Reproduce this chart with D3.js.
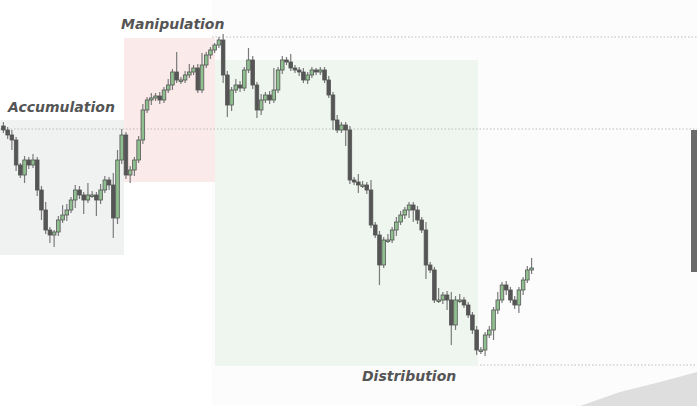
<!DOCTYPE html>
<html><head><meta charset="utf-8">
<script src="https://cdn.jsdelivr.net/npm/d3@7"></script>
<style>body{margin:0;background:#fff;}svg{display:block;font-family:"DejaVu Sans",sans-serif;}</style>
</head><body>
<script>
// closing prices per candle (open = previous close)
const closes = [276,271,266,241,231,246,241,246,216,196,176,171,174,186,191,196,206,216,211,206,211,211,206,216,226,221,188,246,271,
  231,236,246,266,296,306,308,310,306,316,321,334,326,326,331,334,338,316,341,351,356,361,366,331,
  301,316,321,318,336,346,321,296,306,311,306,316,336,346,344,338,336,334,326,331,336,334,336,326,311,286,276,281,276,226,224,221,221,216,181,171,141,166,166,176,184,191,196,201,196,186,176,141,136,106,106,111,106,81,106,106,101,91,76,56,
  56,71,76,96,106,121,116,106,101,116,126,136,138];
const firstOpen = 280;
const highWick = [4,3,5,3,2,4,3,6,3,4,8,3,2,4,10,6,3,5,4,3,12,4,3,6,4,3,12,10,6,
  3,4,3,4,6,3,5,3,4,3,6,3,20,3,4,8,3,4,12,3,3,2,3,6,
  4,3,6,4,3,12,4,3,6,3,4,22,3,4,3,8,3,3,4,3,3,2,3,3,4,3,5,3,3,4,3,8,4,3,10,3,4,3,6,3,5,4,3,3,3,4,3,8,3,3,12,3,4,8,4,6,3,3,3,4,
  3,3,4,3,8,3,4,3,4,3,3,4,10];
const lowWick = [3,4,10,6,3,8,4,3,6,10,4,8,12,4,3,6,3,8,4,14,3,3,16,4,3,5,20,6,4,
  4,8,6,3,4,3,5,3,4,3,3,5,3,4,3,3,3,3,3,3,4,3,3,8,
  12,6,3,4,3,3,4,8,5,3,4,3,3,4,3,3,3,4,3,4,3,3,3,3,3,10,3,3,16,4,3,8,3,4,3,3,20,3,3,3,6,3,4,8,12,4,3,14,3,3,3,4,10,20,5,3,3,3,4,5,
  4,6,3,10,4,3,5,3,4,8,5,3,4];

const regions = [
  {name:"Accumulation", x0:0, x1:124, top:286, bottom:151, fill:"#f0f2f1", lx:8, ly:112},
  {name:"Manipulation", x0:124, x1:215, top:368, bottom:224, fill:"#fbeaea", lx:121, ly:29},
  {name:"Distribution", x0:215, x1:478, top:346, bottom:40, fill:"#eef6ef", lx:362, ly:381}
];
const levels = [{p:369, x0:212}, {p:277, x0:0}, {p:41, x0:480}];

const W = 697, H = 406;
const svg = d3.select("body").append("svg").attr("width", W).attr("height", H);
const y = d3.scaleLinear().domain([0, 406]).range([406, 0]);
const x = d3.scaleBand().domain(d3.range(closes.length)).range([1, 534]).padding(0.15);

svg.append("rect").attr("x",212).attr("y",0).attr("width",W-212).attr("height",H).attr("fill","#fcfcfc");

svg.selectAll("rect.reg").data(regions).enter().append("rect")
  .attr("x", d => d.x0).attr("width", d => d.x1 - d.x0)
  .attr("y", d => y(d.top)).attr("height", d => y(d.bottom) - y(d.top))
  .attr("fill", d => d.fill);

svg.selectAll("line.lvl").data(levels).enter().append("line")
  .attr("x1", d => d.x0).attr("x2", W).attr("y1", d => y(d.p)).attr("y2", d => y(d.p))
  .attr("stroke", "#bbb").attr("stroke-width", 1).attr("stroke-dasharray", "1.5,2");

// bottom-right mountain
svg.append("path").attr("d", "M580,406 L620,392 L660,382 L697,372 L697,406 Z").attr("fill", "#dedede");
svg.append("rect").attr("x",691).attr("y",130).attr("width",6).attr("height",142).attr("fill","#6a6a6a");

const candles = closes.map((c, i) => {
  const o = i === 0 ? firstOpen : closes[i - 1];
  return {i, o, c, h: Math.max(o, c) + highWick[i], l: Math.min(o, c) - lowWick[i]};
});

const g = svg.append("g");
g.selectAll("line.wick").data(candles).enter().append("line")
  .attr("x1", d => x(d.i) + x.bandwidth() / 2).attr("x2", d => x(d.i) + x.bandwidth() / 2)
  .attr("y1", d => y(d.h)).attr("y2", d => y(d.l))
  .attr("stroke", "#7a7a7a").attr("stroke-width", 1.2);
g.selectAll("rect.body").data(candles).enter().append("rect")
  .attr("x", d => x(d.i)).attr("width", x.bandwidth())
  .attr("y", d => y(Math.max(d.o, d.c)))
  .attr("height", d => Math.max(1.5, Math.abs(y(d.o) - y(d.c))))
  .attr("fill", d => d.c >= d.o ? "#8fbf8f" : "#555")
  .attr("stroke", "#555").attr("stroke-width", 0.8);

svg.selectAll("text.lab").data(regions).enter().append("text")
  .attr("x", d => d.lx).attr("y", d => d.ly)
  .attr("font-size", 14).attr("font-weight", "bold").attr("font-style", "italic")
  .attr("fill", "#555")
  .text(d => d.name);
</script>
</body></html>
